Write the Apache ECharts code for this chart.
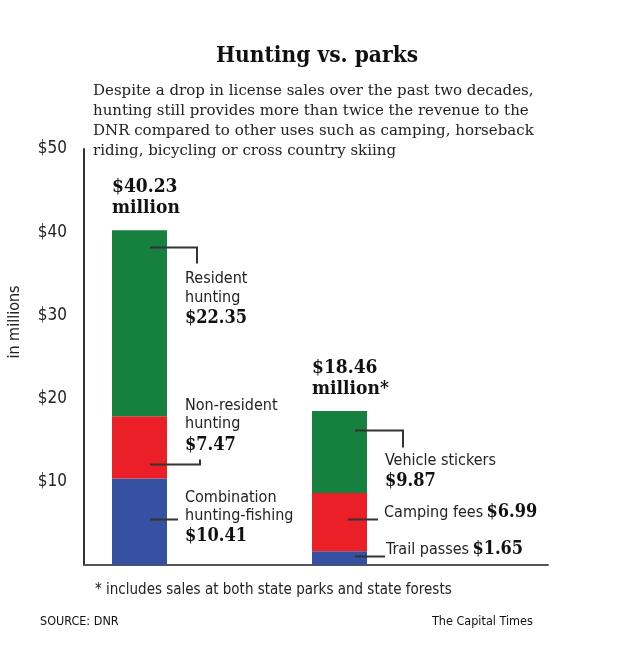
<!DOCTYPE html>
<html>
<head>
<meta charset="utf-8">
<script src="https://cdn.jsdelivr.net/npm/echarts@6/dist/echarts.min.js"></script>
<style>
html, body { margin: 0; padding: 0; background: #fff; }
#chart { width: 620px; height: 661px; }
</style>
</head>
<body>
<div id="chart"></div>
<script>
// data
const categories = ['Hunting', 'Parks']
const bottomValues = [10.41, 1.65]   // combination hunting-fishing / trail passes
const middleValues = [7.47, 6.99]    // non-resident hunting / camping fees
const topValues = [22.35, 9.87]      // resident hunting / vehicle stickers
const totals = [40.23, 18.46]
const bottomNames = ['Combination\nhunting-fishing', 'Trail passes']
const middleNames = ['Non-resident\nhunting', 'Camping fees']
const topNames = ['Resident\nhunting', 'Vehicle stickers']
const yTicks = [0, 10, 20, 30, 40, 50]
const yTickLabels = ['', '$10', '$20', '$30', '$40', '$50']

const SANS = '"Liberation Sans Narrow", "DejaVu Sans Condensed", sans-serif'
const SLAB = '"DejaVu Serif Condensed", "DejaVu Serif", serif'
const SERIF = '"DejaVu Serif", serif'
const INK = '#222'
const colors = ['#3651a2', '#ea1f28', '#16803f']

const el = document.getElementById('chart')
const chart = echarts.init(el)

const gridTop = 149
const gridBottom = 96

chart.setOption({
  animation: false,
  title: [
    {
      text: 'Hunting vs. parks',
      left: 312, top: 40, textAlign: 'center',
      textStyle: { fontFamily: SLAB, fontWeight: 'bold', fontSize: 22.5, color: '#111' }
    },
    {
      text: 'Despite a drop in license sales over the past two decades,\nhunting still provides more than twice the revenue to the\nDNR compared to other uses such as camping, horseback\nriding, bicycling or cross country skiing',
      left: 88, top: 76,
      textStyle: { fontFamily: SERIF, fontWeight: 'normal', fontSize: 15, lineHeight: 20, color: INK }
    },
    {
      text: '* includes sales at both state parks and state forests',
      left: 90, top: 578,
      textStyle: { fontFamily: SANS, fontWeight: 'normal', fontSize: 15, color: INK }
    },
    {
      text: 'SOURCE: DNR',
      left: 35, top: 610,
      textStyle: { fontFamily: SANS, fontWeight: 'normal', fontSize: 12.5, color: '#111' }
    },
    {
      text: 'The Capital Times',
      left: 427, top: 610,
      textStyle: { fontFamily: SANS, fontWeight: 'normal', fontSize: 12.5, color: '#111' }
    }
  ],
  grid: [
    { left: 84, right: 72, top: gridTop, bottom: gridBottom },
    { left: 39.5, right: 180.5, top: gridTop, bottom: gridBottom }
  ],
  xAxis: [
    {
      gridIndex: 0, type: 'category', data: [''],
      axisLine: { lineStyle: { color: '#555', width: 2 } },
      axisTick: { show: false }, axisLabel: { show: false }
    },
    { gridIndex: 1, type: 'category', data: categories, show: false }
  ],
  yAxis: [
    {
      gridIndex: 0, type: 'value', min: yTicks[0], max: yTicks[yTicks.length - 1], interval: 10,
      axisLine: { show: true, lineStyle: { color: '#333', width: 2 } },
      axisTick: { show: false }, splitLine: { show: false },
      axisLabel: {
        margin: 17, fontFamily: SANS, fontSize: 17, color: INK,
        formatter: v => yTickLabels[yTicks.indexOf(v)] || ''
      }
    },
    { gridIndex: 1, type: 'value', min: yTicks[0], max: yTicks[yTicks.length - 1], show: false }
  ],
  series: [bottomValues, middleValues, topValues].map((vals, i) => ({
    type: 'bar', stack: 'total', xAxisIndex: 1, yAxisIndex: 1,
    barWidth: 55, data: vals, itemStyle: { color: colors[i] }
  }))
})

// callout layout: where along the segment the leader starts, how it bends, where text sits
const seriesValues = [bottomValues, middleValues, topValues]
const seriesNames = [bottomNames, middleNames, topNames]
const callouts = [
  { s: 2, c: 0, frac: 0.09, from: 10.5, to: 57.5, hook: 16, tx: 45.5, dy: [31, 50, 71] },
  { s: 1, c: 0, frac: 0.77, from: 10.5, to: 60.5, hook: -5, tx: 45.5, dy: [-59, -41, -19] },
  { s: 0, c: 0, frac: 0.47, from: 10.5, to: 38.5, hook: 0, tx: 45.5, dy: [-22, -4, 17] },
  { s: 2, c: 1, frac: 0.23, from: 15.5, to: 63.5, hook: 17, tx: 45.5, dy: [30, 51] },
  { s: 1, c: 1, frac: 0.45, from: 8.5, to: 38.5, hook: 0, tx: 44.5, inline: -7 },
  { s: 0, c: 1, frac: 0.33, from: 15.5, to: 45.5, hook: 0, tx: 46.5, inline: -7 }
]

const px = (c, v) => chart.convertToPixel({ gridIndex: 1 }, [c, v])
const lineStyle = { stroke: '#333', lineWidth: 2, fill: null }
const nameFont = '16px ' + SANS
const valFont = 'bold 18px ' + SLAB
const elements = []

callouts.forEach(o => {
  let base = 0
  for (let k = 0; k < o.s; k++) base += seriesValues[k][o.c]
  const top = px(o.c, base + seriesValues[o.s][o.c])
  const bot = px(o.c, base)
  const cx = top[0]
  const y = Math.round(top[1] + o.frac * (bot[1] - top[1])) + 0.5
  const pts = [[cx + o.from, y], [cx + o.to, y]]
  if (o.hook) pts.push([cx + o.to, y + o.hook])
  elements.push({ type: 'polyline', shape: { points: pts }, style: lineStyle, z: 10 })

  const name = seriesNames[o.s][o.c]
  const val = '$' + seriesValues[o.s][o.c].toFixed(2)
  if (o.inline !== undefined) {
    elements.push({
      type: 'text', x: cx + o.tx, y: y + o.inline, z: 10,
      style: {
        text: '{n|' + name + '} {v|' + val + '}',
        textVerticalAlign: 'middle',
        rich: {
          n: { font: nameFont, fill: INK, color: INK },
          v: { font: valFont, fill: '#111', color: '#111' }
        }
      }
    })
  } else {
    const lines = name.split('\n')
    lines.forEach((t, k) => {
      elements.push({
        type: 'text', x: cx + o.tx, y: y + o.dy[k], z: 10,
        style: { text: t, font: nameFont, fill: INK, textVerticalAlign: 'middle' }
      })
    })
    elements.push({
      type: 'text', x: cx + o.tx, y: y + o.dy[lines.length], z: 10,
      style: { text: val, font: valFont, fill: '#111', textVerticalAlign: 'middle' }
    })
  }
})

// totals above each bar
categories.forEach((cat, c) => {
  const top = px(c, bottomValues[c] + middleValues[c] + topValues[c])
  const left = top[0] - 27.5
  const lines = ['$' + totals[c].toFixed(2), c === 0 ? 'million' : 'million*']
  lines.forEach((t, k) => {
    elements.push({
      type: 'text', x: left, y: top[1] - 43 + k * 21, z: 10,
      style: { text: t, font: 'bold 19px ' + SLAB, fill: '#111', textVerticalAlign: 'middle' }
    })
  })
})

// rotated axis title
elements.push({
  type: 'text', x: 15, y: 322, rotation: Math.PI / 2, z: 10,
  style: { text: 'in millions', font: '16px ' + SANS, fill: INK, textAlign: 'center', textVerticalAlign: 'middle' }
})

chart.setOption({ graphic: { elements } })
</script>
</body>
</html>
